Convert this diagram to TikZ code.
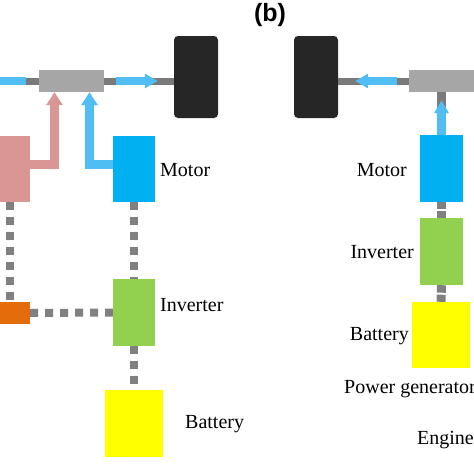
\documentclass[tikz,border=0pt]{standalone}
\usepackage{fontspec}
\setmainfont{Liberation Serif}
\newfontfamily\headfont{Liberation Sans}
\usetikzlibrary{arrows.meta,positioning}

\definecolor{flowblue}{RGB}{80,190,243}
\definecolor{motorblue}{RGB}{0,176,240}
\definecolor{genpink}{RGB}{217,150,148}
\definecolor{geargray}{RGB}{166,166,166}
\definecolor{shaftgray}{RGB}{122,122,122}
\definecolor{wheelblack}{RGB}{38,38,38}
\definecolor{convorange}{RGB}{228,108,10}
\definecolor{invgreen}{RGB}{146,208,80}
\definecolor{batyellow}{RGB}{255,255,0}

\tikzset{
  box/.style={rectangle, inner sep=0pt, draw=none},
  wheel/.style={box, fill=wheelblack, rounded corners=4pt, minimum width=44pt, minimum height=82pt},
  shaft/.style={draw=shaftgray, line width=7pt},
  flow/.style={draw=flowblue, line width=8pt, -{Triangle[width=14pt,length=13pt]}},
  feed/.style={line width=9pt, line join=miter, -{Triangle[width=16pt,length=13pt]}},
  link/.style={draw=gray, line width=8pt, dash pattern=on 8pt off 7pt},
  lbl/.style={inner sep=0pt, font=\fontsize{20}{24}\selectfont}
}

\begin{document}
\begin{tikzpicture}[x=1pt, y=-1pt]
    \useasboundingbox (0,0) rectangle (474,474);
    \clip (0,0) rectangle (474,474);

    % left drive
    \node[box, fill=geargray, minimum width=65pt, minimum height=22pt] (gearL) at (71.5,81) {};
    \node[wheel] (wheelL) at (196,77) {};
    \node[box, fill=genpink, minimum width=40pt, minimum height=66pt] (genL) at (10,169) {};
    \node[box, fill=motorblue, minimum width=42pt, minimum height=66pt] (motorL) at (134,169) {};
    \node[box, fill=convorange, minimum width=35pt, minimum height=22pt] (convL) at (12.5,313) {};
    \node[box, fill=invgreen, minimum width=42pt, minimum height=67pt] (invL) at (134,312.5) {};
    \node[box, fill=batyellow, minimum width=58pt, minimum height=67pt] (batL) at (134,423.5) {};

    \coordinate (inL) at (-5,81);
    \coordinate (hubL) at (gearL.east -| wheelL.west);
    \draw[shaft] (gearL.west) -- ++(-13,0) coordinate (sL);
    \draw[draw=flowblue, line width=8pt] (inL) -- (sL);
    \draw[shaft] (gearL.east) -- (hubL);
    \draw[flow] ([xshift=12pt]gearL.east) -- ([xshift=-16pt]hubL);

    \draw[feed, draw=genpink] ([yshift=4.5pt]genL.east) -| ([xshift=-17pt]gearL.south);
    \draw[feed, draw=flowblue] ([yshift=4.5pt]motorL.west) -| ([xshift=18pt]gearL.south);

    \draw[link] (genL.south) -- (genL.south |- convL.north);
    \draw[link] (convL.east) -- (invL.west);
    \draw[link] (motorL.south) -- (invL.north);
    \draw[link] (invL.south) -- (batL.north);

    \node[lbl, anchor=west] (motorLlbl) at (160,170) {Motor};
    \node[lbl, anchor=west] (invLlbl) at (160,305) {Inverter};
    \node[lbl, anchor=west] (batLlbl) at (185,424) {Battery};

    % right drive
    \node[font=\headfont\bfseries\fontsize{25}{30}\selectfont, inner sep=0pt] (title) at (270,15) {(b)};
    \node[wheel] (wheelR) at (316,77) {};
    \node[box, fill=geargray, minimum width=81pt, minimum height=22pt] (gearR) at (449.5,81) {};
    \node[box, fill=motorblue, minimum width=43pt, minimum height=67pt] (motorR) at (441.5,168.5) {};
    \node[box, fill=invgreen, minimum width=43pt, minimum height=67pt] (invR) at (441.5,251.5) {};
    \node[box, fill=batyellow, minimum width=58pt, minimum height=66pt] (batR) at (441,335) {};

    \coordinate (hubR) at (gearR.west -| wheelR.east);
    \draw[shaft] (hubR) -- (gearR.west);
    \draw[flow] ([xshift=-12pt]gearR.west) -- ([xshift=17pt]hubR);

    \coordinate (gearRin) at (motorR.north |- gearR.south);
    \draw[shaft, line width=9pt] (motorR.north) -- (gearRin);
    \draw[flow, line width=9pt] (motorR.north) -- ([yshift=-8pt]gearRin);

    \draw[link, line width=9pt, dash pattern=on 7pt off 2pt] (motorR.south) -- (invR.north);
    \draw[link, line width=9pt, dash pattern=on 7.5pt off 2pt] (invR.south) -- (batR.north);

    \node[lbl, anchor=east] (motorRlbl) at (407,170) {Motor};
    \node[lbl, anchor=east] (invRlbl) at (414,252) {Inverter};
    \node[lbl, anchor=east] (batRlbl) at (409,336) {Battery};
    \node[lbl, anchor=west] (genRlbl) at (344,389) {Power generator};
    \node[lbl, anchor=west] (engRlbl) at (417,440) {Engine};
\end{tikzpicture}
\end{document}
